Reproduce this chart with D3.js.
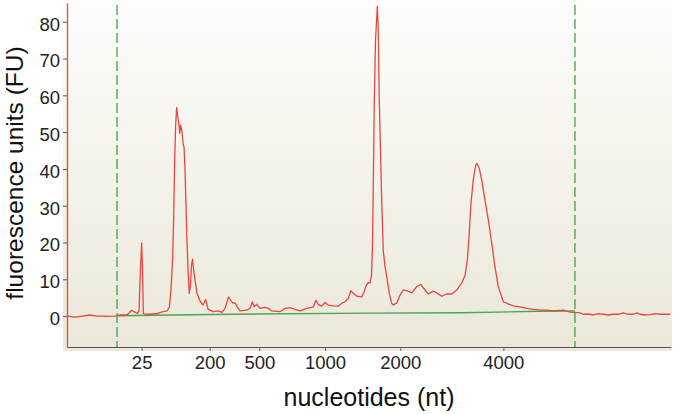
<!DOCTYPE html>
<html>
<head>
<meta charset="utf-8">
<script src="https://cdn.jsdelivr.net/npm/d3@7"></script>
<style>
  html, body { margin: 0; padding: 0; background: #ffffff; }
  svg { display: block; font-family: "Liberation Sans", Arial, sans-serif; }
  .tick text { fill: #222; }
</style>
</head>
<body>
<svg id="chart" width="685" height="414"></svg>
<script>
// migration time (s) and fluorescence (FU)
const timeSec = [
  20.00, 20.66, 21.32, 21.90, 22.48, 22.90, 23.39, 23.97, 24.14, 24.39,
  24.97, 25.36, 25.55, 25.82, 25.96, 26.08, 26.18, 26.25, 26.32, 26.46,
  26.87, 27.45, 27.95, 28.28, 28.47, 28.61, 28.75, 28.82, 28.92, 29.00,
  29.08, 29.15, 29.25, 29.33, 29.41, 29.50, 29.63, 29.69, 29.77, 29.85,
  29.93, 30.02, 30.12, 30.22, 30.31, 30.39, 30.47, 30.60, 30.76, 31.01,
  31.26, 31.48, 31.67, 32.09, 32.50, 32.83, 33.08, 33.37, 33.63, 33.77,
  33.91, 34.10, 34.32, 34.88, 35.15, 35.34, 35.48, 35.70, 35.98, 36.39,
  36.66, 36.95, 37.63, 38.05, 38.46, 38.87, 39.29, 39.84, 40.39, 40.61,
  40.80, 41.08, 41.36, 41.63, 42.05, 42.46, 42.74, 43.01, 43.29, 43.49,
  43.70, 43.98, 44.40, 44.59, 44.75, 44.94, 45.08, 45.21, 45.29, 45.36,
  45.44, 45.54, 45.69, 45.77, 45.85, 45.95, 46.05, 46.18, 46.32, 46.47,
  46.68, 46.88, 47.01, 47.15, 47.29, 47.57, 47.84, 48.12, 48.54, 48.95,
  49.28, 49.64, 49.91, 50.32, 50.60, 51.02, 51.43, 51.85, 52.26, 52.67,
  52.95, 53.14, 53.30, 53.44, 53.63, 53.83, 53.94, 54.13, 54.33, 54.60,
  54.88, 55.16, 55.43, 55.70, 56.12, 56.53, 56.95, 57.50, 58.05, 58.60,
  59.16, 59.71, 60.26, 61.08, 61.64, 62.05, 62.47, 62.74, 63.30, 63.57,
  63.98, 64.40, 64.81, 65.22, 65.64, 66.05, 66.47, 66.88, 67.16, 67.43,
  67.85, 68.26, 68.68, 69.09, 69.92
];
const fluorescence = [
  0.0, -0.3, 0.0, 0.3, 0.0, 0.0, -0.1, 0.0, 0.1, 0.3,
  0.3, 1.6, 1.2, 0.7, 1.4, 12.5, 19.9, 12.5, 0.7, 0.5,
  0.5, 0.7, 1.2, 1.4, 2.4, 7.1, 16.0, 25.3, 43.2, 52.4,
  56.7, 54.6, 52.4, 49.7, 51.9, 50.5, 46.5, 45.9, 39.7, 30.2,
  20.6, 12.5, 6.2, 8.4, 13.9, 15.5, 13.0, 9.8, 6.2, 4.1,
  3.0, 4.5, 1.9, 1.2, 1.4, 1.0, 2.1, 5.2, 3.9, 3.5,
  3.6, 2.4, 1.4, 1.6, 2.1, 3.9, 2.5, 3.2, 2.1, 2.4,
  2.1, 1.4, 1.2, 2.1, 2.3, 1.8, 1.4, 2.1, 2.5, 4.3,
  3.2, 2.7, 3.7, 3.0, 2.8, 2.7, 3.5, 3.9, 4.8, 6.9,
  6.2, 5.4, 5.2, 6.5, 8.2, 9.1, 9.0, 11.1, 19.3, 37.0,
  58.7, 75.0, 84.2, 76.9, 58.7, 45.1, 31.5, 17.9, 13.6, 10.6,
  6.2, 3.5, 3.0, 3.3, 3.5, 5.7, 7.1, 6.9, 6.3, 8.0,
  8.6, 7.1, 6.0, 6.8, 6.3, 5.4, 6.0, 6.0, 7.1, 8.9,
  11.1, 15.2, 22.5, 30.6, 37.0, 41.0, 41.5, 40.1, 37.0, 31.5,
  26.1, 19.8, 13.4, 8.0, 3.9, 3.3, 2.8, 2.5, 2.1, 1.8,
  1.6, 1.6, 1.4, 1.6, 1.1, 1.0, 0.9, 0.5, 0.5, 0.3,
  0.7, 0.5, 0.3, 0.5, 0.5, 0.9, 0.5, 0.5, 0.9, 0.5,
  0.3, 0.4, 0.7, 0.5, 0.5
];

// green baseline between the two markers
const baselineTime = [24.14, 33.6, 45.0, 52.6, 59.2, 62.05];
const baselineFU = [0.1, 0.5, 0.8, 0.9, 1.3, 1.4];

// lower / upper marker positions (dashed lines)
const markerTimes = [24.14, 62.05];

// size ladder ticks
const tickTimes = [26.18, 31.81, 35.92, 41.36, 47.59, 56.12];
const tickLabels = ["25", "200", "500", "1000", "2000", "4000"];
const yTicks = [0, 10, 20, 30, 40, 50, 60, 70, 80];

const width = 685;
const height = 414;
const margin = { top: 3, right: 14, bottom: 67, left: 67 };

const svg = d3.select("#chart");

const x = d3.scaleLinear()
  .domain([20, 70])
  .range([margin.left, width - margin.right]);
const y = d3.scaleLinear()
  .domain([-8.4, 85.1])
  .range([height - margin.bottom, margin.top]);

// plot background gradient
const grad = svg.append("defs").append("linearGradient")
  .attr("id", "bg")
  .attr("x1", 0).attr("y1", 0).attr("x2", 0).attr("y2", 1);
grad.append("stop").attr("offset", "0%").attr("stop-color", "#fdfdfb");
grad.append("stop").attr("offset", "100%").attr("stop-color", "#ebe8d9");

svg.append("rect")
  .attr("x", margin.left - 4)
  .attr("y", 0)
  .attr("width", width - margin.left - margin.right + 5)
  .attr("height", height - margin.bottom + 4)
  .attr("fill", "url(#bg)");

// marker lines
svg.append("g")
  .selectAll("line")
  .data(markerTimes)
  .join("line")
  .attr("x1", d => x(d))
  .attr("x2", d => x(d))
  .attr("y1", y.range()[1] + 2)
  .attr("y2", y.range()[0])
  .attr("stroke", "#2f9e3a")
  .attr("stroke-width", 1.2)
  .attr("stroke-dasharray", "10,4");

// baseline
const baseData = baselineTime.map((t, i) => ({ t, v: baselineFU[i] }));
svg.append("path")
  .datum(baseData)
  .attr("fill", "none")
  .attr("stroke", "#48a84e")
  .attr("stroke-width", 1.4)
  .attr("d", d3.line().x(d => x(d.t)).y(d => y(d.v)));

// trace
const trace = timeSec.map((t, i) => ({ t, v: fluorescence[i] }));
svg.append("path")
  .datum(trace)
  .attr("fill", "none")
  .attr("stroke", "#e8463f")
  .attr("stroke-width", 1.3)
  .attr("stroke-linejoin", "round")
  .attr("d", d3.line().x(d => x(d.t)).y(d => y(d.v)));

// axes
const xAxisG = svg.append("g")
  .attr("transform", `translate(0,${height - margin.bottom})`)
  .call(d3.axisBottom(x)
    .tickValues(tickTimes)
    .tickFormat((d, i) => tickLabels[i])
    .tickSize(4)
    .tickSizeOuter(0)
    .tickPadding(5));
xAxisG.select(".domain").attr("stroke", "#555").attr("stroke-width", 1.2);
xAxisG.selectAll(".tick line").attr("stroke", "#666");
xAxisG.selectAll("text").attr("font-size", 18.5).attr("fill", "#222");

const yAxisG = svg.append("g")
  .attr("transform", `translate(${margin.left},0)`)
  .call(d3.axisLeft(y)
    .tickValues(yTicks)
    .tickSize(4)
    .tickSizeOuter(0)
    .tickPadding(3));
yAxisG.select(".domain").attr("stroke", "#e8463f").attr("stroke-width", 1.3);
yAxisG.selectAll(".tick line").attr("stroke", "#555");
yAxisG.selectAll("text")
  .attr("font-size", 18.5)
  .attr("fill", "#222")
  .attr("dy", "0.45em");

// axis titles
svg.append("text")
  .attr("x", 369)
  .attr("y", 406)
  .attr("text-anchor", "middle")
  .attr("font-size", 25)
  .attr("fill", "#111")
  .text("nucleotides (nt)");

svg.append("text")
  .attr("transform", "rotate(-90)")
  .attr("x", -173)
  .attr("y", 23)
  .attr("text-anchor", "middle")
  .attr("font-size", 24.5)
  .attr("fill", "#111")
  .text("fluorescence units (FU)");
</script>
</body>
</html>
